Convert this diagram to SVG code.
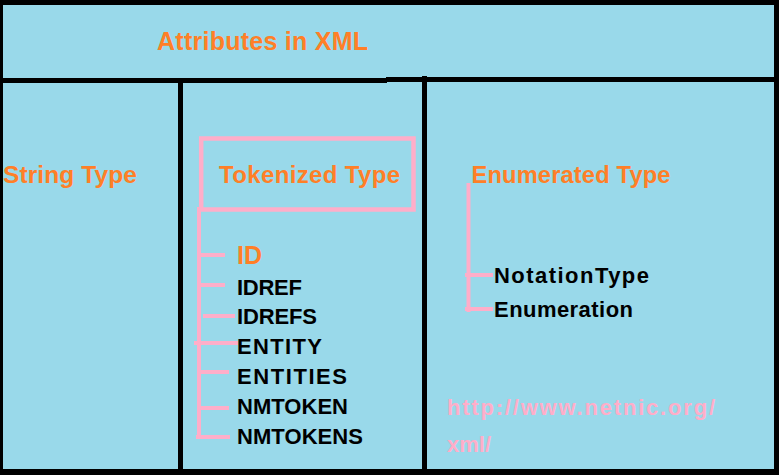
<svg xmlns="http://www.w3.org/2000/svg" width="779" height="475" viewBox="0 0 779 475">
<style>
  .bd { fill: #000000; }
  .pk { stroke: #FFAEC9; fill: none; stroke-width: 4; stroke-linecap: butt; }
  text { font-family: "Liberation Sans", Arial, sans-serif; font-weight: bold; }
  .or { fill: #FF7F27; }
  .bk { fill: #000000; font-size: 22px; }
  .url { fill: #FFAEC9; font-size: 22px; }
</style>
<rect x="0" y="0" width="779" height="475" fill="#99D9EA"/>
<g id="frame">
  <rect class="bd" x="0" y="0" width="779" height="5"/>
  <rect class="bd" x="0" y="469" width="779" height="6"/>
  <rect class="bd" x="0" y="0" width="3" height="475"/>
  <rect class="bd" x="774" y="0" width="5" height="475"/>
  <rect class="bd" x="0" y="78" width="387" height="5"/>
  <rect class="bd" x="386" y="77" width="389" height="5"/>
  <rect class="bd" x="178" y="80" width="5" height="392"/>
  <rect class="bd" x="422" y="76" width="5" height="396"/>
</g>
<g id="connectors">
  <line class="pk" x1="199" y1="207" x2="199" y2="439"/>
  <line class="pk" x1="199" y1="255" x2="225" y2="255"/>
  <line class="pk" x1="199" y1="285" x2="225" y2="285"/>
  <line class="pk" x1="203" y1="316" x2="235" y2="316"/>
  <line class="pk" x1="194" y1="343" x2="238" y2="343"/>
  <line class="pk" x1="199" y1="372" x2="229" y2="372"/>
  <line class="pk" x1="199" y1="408" x2="229" y2="408"/>
  <line class="pk" x1="196" y1="437" x2="230" y2="437"/>
  <line class="pk" x1="468.5" y1="183" x2="468.5" y2="312"/>
  <line class="pk" x1="465" y1="275" x2="493" y2="275"/>
  <line class="pk" x1="465" y1="309" x2="493" y2="309"/>
</g>
<g id="title">
  <text class="or" x="157" y="50" font-size="25" textLength="211" lengthAdjust="spacing">Attributes in XML</text>
</g>
<g id="string-type">
  <text class="or" x="3" y="183" font-size="24.5" textLength="134" lengthAdjust="spacing">String Type</text>
</g>
<g id="tokenized-type">
  <rect x="201.2" y="138.5" width="212.3" height="71" fill="none" stroke="#FFAEC9" stroke-width="4.5"/>
  <text class="or" x="219" y="183" font-size="24" textLength="181" lengthAdjust="spacing">Tokenized Type</text>
</g>
<g id="enumerated-type">
  <text class="or" x="471.5" y="183" font-size="23.7" textLength="199" lengthAdjust="spacing">Enumerated Type</text>
</g>
<g id="tokenized-items">
  <text class="or" x="237" y="264" font-size="25">ID</text>
  <text class="bk" x="237" y="295" textLength="65" lengthAdjust="spacing">IDREF</text>
  <text class="bk" x="237" y="324" textLength="80" lengthAdjust="spacing">IDREFS</text>
  <text class="bk" x="237" y="354" textLength="85" lengthAdjust="spacing">ENTITY</text>
  <text class="bk" x="237" y="384" textLength="110" lengthAdjust="spacing">ENTITIES</text>
  <text class="bk" x="237" y="414" textLength="111" lengthAdjust="spacing">NMTOKEN</text>
  <text class="bk" x="237" y="444" textLength="126" lengthAdjust="spacing">NMTOKENS</text>
</g>
<g id="enumerated-items">
  <text class="bk" x="494" y="283" font-size="24" textLength="155" lengthAdjust="spacing">NotationType</text>
  <text class="bk" x="494" y="317" font-size="23" textLength="139" lengthAdjust="spacing">Enumeration</text>
</g>
<g id="source">
  <text class="url" x="447" y="415" textLength="268" lengthAdjust="spacing">http://www.netnic.org/</text>
  <text class="url" x="447" y="452">xml/</text>
</g>
</svg>
